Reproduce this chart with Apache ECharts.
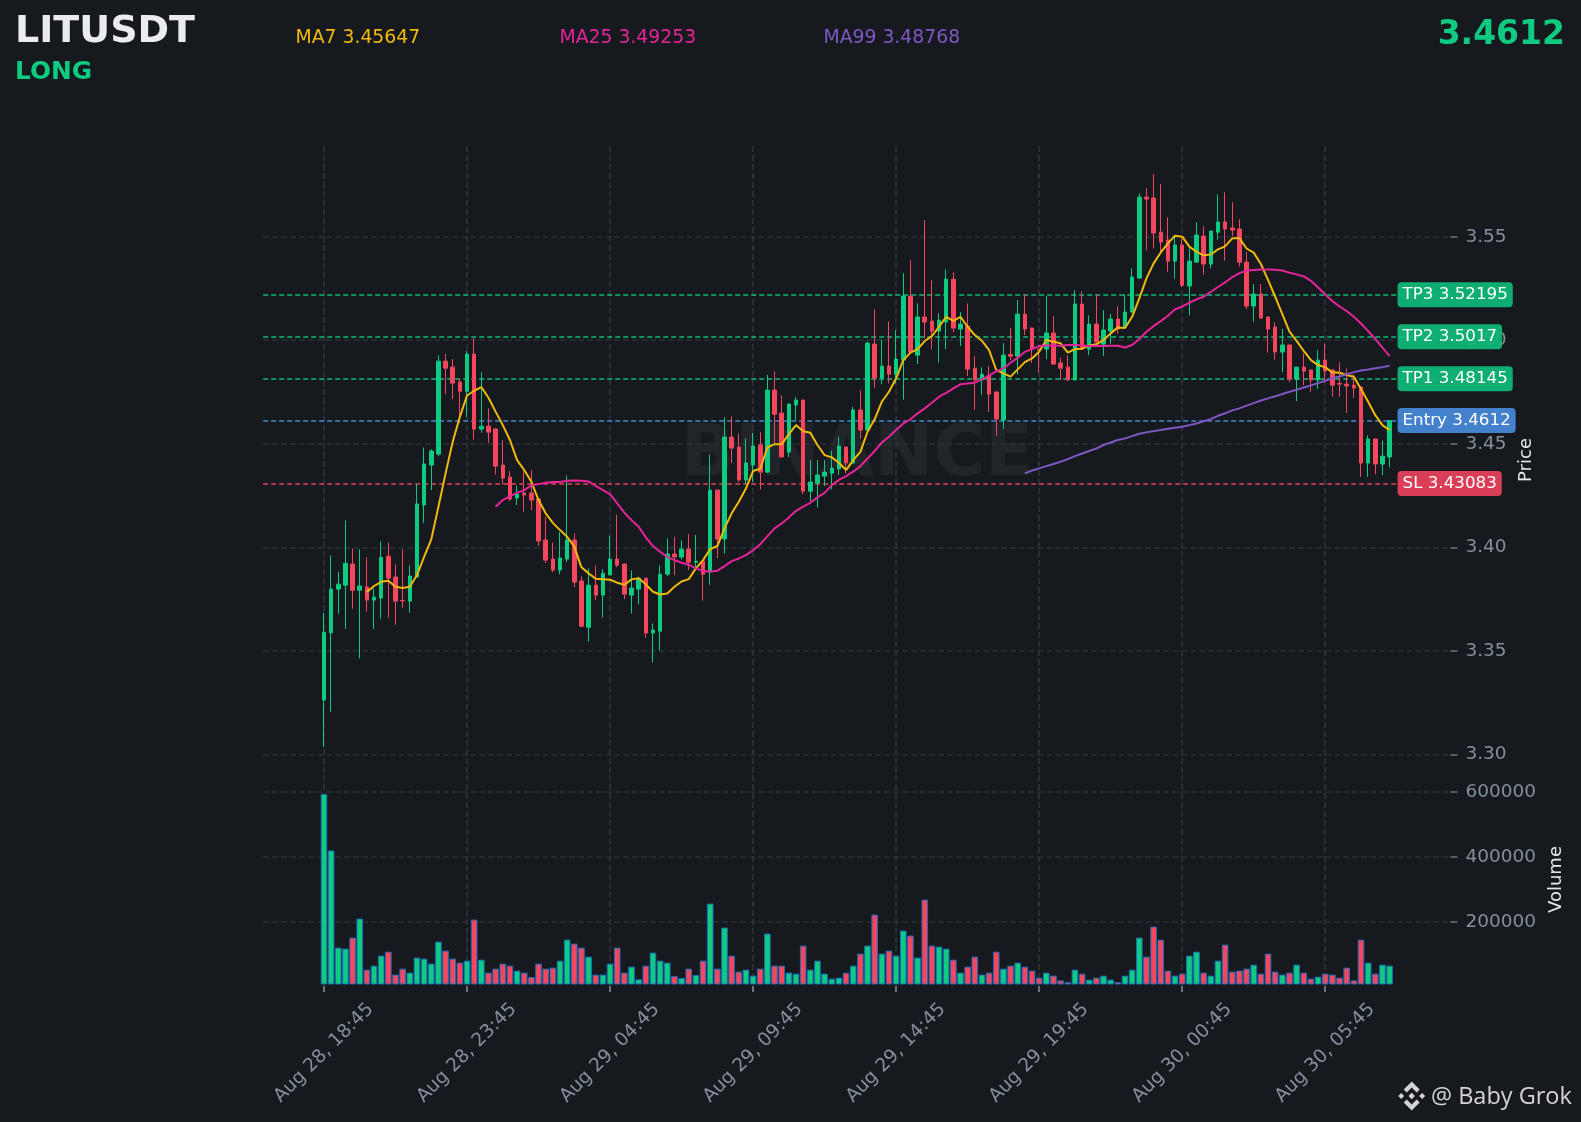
<!DOCTYPE html>
<html><head><meta charset="utf-8"><title>LITUSDT</title>
<style>html,body{margin:0;padding:0;background:#161a1f}#c{width:1581px;height:1122px}</style>
<script src="https://cdn.jsdelivr.net/npm/echarts@6/dist/echarts.min.js"></script>
</head><body><div id="c"></div><script>
const tickLabels = ['Aug 28, 18:45','Aug 28, 23:45','Aug 29, 04:45','Aug 29, 09:45','Aug 29, 14:45','Aug 29, 19:45','Aug 30, 00:45','Aug 30, 05:45'];
const opens = [3.3262,3.3587,3.3798,3.3817,3.3919,3.3793,3.3808,3.3745,3.3755,3.3957,
3.3856,3.3743,3.374,3.3856,3.4204,3.4397,3.445,3.4899,3.487,3.4798,
3.4754,3.4933,3.4571,3.4585,3.4571,3.4397,3.4339,3.4238,3.4262,3.4262,
3.4233,3.4035,3.3943,3.389,3.3943,3.4035,3.3837,3.3614,3.3817,3.3769,
3.3866,3.3943,3.3919,3.3769,3.3798,3.3851,3.3586,3.3595,3.387,3.3967,
3.3953,3.3991,3.3928,3.3933,3.388,3.4276,3.404,3.4532,3.4484,3.4325,
3.4397,3.4494,3.4363,3.4759,3.4648,3.446,3.4687,3.4711,3.4271,3.431,
3.4344,3.4358,3.4378,3.4484,3.4407,3.4663,3.4566,3.4981,3.4817,3.4875,
3.4836,3.4904,3.5213,3.4928,3.5112,3.5092,3.5044,3.5088,3.5295,3.5054,
3.5068,3.4865,3.4808,3.4832,3.475,3.4614,3.4931,3.4923,3.5126,3.5059,
3.4957,3.4957,3.5035,3.489,3.487,3.4808,3.5175,3.4957,3.5078,3.4981,
3.5044,3.5102,3.5064,3.5136,3.53,3.5691,3.5687,3.5522,3.5484,3.5382,
3.546,3.5262,3.5377,3.5503,3.5368,3.5522,3.5571,3.5542,3.5537,3.5377,
3.5165,3.5223,3.5112,3.5064,3.4943,3.4977,3.4812,3.487,3.4856,3.4808,
3.4904,3.4856,3.4791,3.4788,3.4783,3.4774,3.4407,3.4523,3.4402,3.4436];
const closes = [3.359,3.3798,3.3822,3.3922,3.3793,3.3813,3.3745,3.3759,3.3951,3.3851,
3.374,3.3741,3.3861,3.4209,3.4402,3.4465,3.4899,3.4865,3.4793,3.4754,
3.4933,3.4571,3.4585,3.4556,3.4392,3.4334,3.4233,3.4257,3.4252,3.4228,
3.403,3.3938,3.389,3.3948,3.4035,3.3832,3.3619,3.3817,3.3769,3.3875,
3.3943,3.3914,3.3774,3.3803,3.385,3.3586,3.36,3.387,3.3967,3.3953,
3.3991,3.3928,3.3933,3.387,3.4276,3.404,3.4532,3.4479,3.4325,3.4407,
3.4489,3.4363,3.4759,3.4643,3.4436,3.4692,3.4711,3.4271,3.4315,3.4349,
3.4363,3.4382,3.4489,3.4407,3.4663,3.4566,3.4986,3.4817,3.4875,3.4836,
3.4909,3.5213,3.4943,3.5112,3.5088,3.5044,3.5097,3.5295,3.5059,3.5078,
3.4861,3.4808,3.4836,3.474,3.4619,3.4928,3.4923,3.5126,3.5054,3.4957,
3.4952,3.5035,3.4885,3.4865,3.4808,3.5175,3.4957,3.5078,3.4991,3.5049,
3.5102,3.5054,3.5136,3.5305,3.5691,3.5682,3.5518,3.5474,3.5382,3.546,
3.5266,3.5382,3.5508,3.5368,3.5527,3.5571,3.5537,3.5532,3.5377,3.5165,
3.5223,3.5107,3.5054,3.4943,3.4977,3.4812,3.487,3.4851,3.4808,3.4904,
3.4851,3.4783,3.4788,3.4779,3.4769,3.4407,3.4523,3.4402,3.444,3.4612];
const highs = [3.3684,3.3961,3.3882,3.413,3.3994,3.399,3.3951,3.3801,3.4028,3.4023,
3.3917,3.399,3.3912,3.4304,3.4482,3.4473,3.4927,3.4933,3.4909,3.4816,
3.4948,3.5009,3.4845,3.4671,3.4574,3.4516,3.4368,3.4296,3.4368,3.4373,
3.4235,3.4146,3.4023,3.4073,3.4347,3.4067,3.3859,3.3898,3.3912,3.3895,
3.4056,3.4157,3.3921,3.3888,3.3858,3.3853,3.3632,3.3912,3.4043,3.4049,
3.4033,3.4064,3.4059,3.3938,3.4448,3.4278,3.4627,3.4632,3.455,3.4526,
3.4552,3.4555,3.4832,3.4849,3.4733,3.4694,3.4725,3.4713,3.4421,3.4421,
3.4421,3.4466,3.4534,3.4486,3.4679,3.4758,3.4993,3.5149,3.5004,3.5091,
3.5049,3.5323,3.5386,3.5178,3.558,3.5289,3.513,3.5342,3.5328,3.5136,
3.5178,3.4922,3.4869,3.4875,3.4752,3.4985,3.5059,3.5194,3.5221,3.5061,
3.4958,3.5213,3.5115,3.4915,3.4927,3.5241,3.5236,3.512,3.5221,3.5144,
3.5126,3.5163,3.5221,3.5347,3.5709,3.5733,3.5802,3.5754,3.5593,3.5503,
3.5492,3.5443,3.5569,3.555,3.5529,3.5704,3.5714,3.5666,3.5584,3.5427,
3.5271,3.5271,3.5114,3.5086,3.5054,3.4979,3.4872,3.4936,3.4858,3.4952,
3.4985,3.4858,3.4893,3.4864,3.4835,3.4776,3.454,3.4525,3.4514,3.4614];
const lows = [3.3037,3.3206,3.3679,3.3606,3.3703,3.3463,3.3689,3.3606,3.3655,3.366,
3.3626,3.3708,3.3684,3.3856,3.4118,3.4276,3.444,3.474,3.4716,3.4601,
3.463,3.4519,3.4553,3.4505,3.435,3.4305,3.4223,3.4204,3.4172,3.418,
3.4006,3.3924,3.388,3.387,3.3928,3.3808,3.3614,3.3544,3.3745,3.3661,
3.3866,3.3904,3.375,3.368,3.3724,3.3563,3.3444,3.3502,3.3861,3.3866,
3.3941,3.389,3.3898,3.3742,3.3819,3.3948,3.3969,3.4407,3.4315,3.4305,
3.4315,3.4279,3.4358,3.4502,3.4434,3.4436,3.4614,3.4257,3.4223,3.4192,
3.4296,3.4279,3.4349,3.4357,3.4405,3.4526,3.4563,3.477,3.4788,3.4791,
3.4791,3.4713,3.4941,3.4885,3.501,3.4956,3.4893,3.4956,3.5039,3.4972,
3.4827,3.4664,3.4738,3.4653,3.4539,3.4572,3.4904,3.4835,3.5025,3.489,
3.4845,3.4909,3.488,3.4808,3.4803,3.4806,3.4955,3.4928,3.4989,3.4925,
3.4983,3.5033,3.5057,3.5134,3.5298,3.5434,3.5443,3.5427,3.5331,3.5297,
3.5257,3.5121,3.5375,3.5316,3.5347,3.5485,3.5384,3.5503,3.5355,3.515,
3.5089,3.5105,3.494,3.4906,3.4845,3.4798,3.4706,3.4783,3.4751,3.4764,
3.4796,3.4727,3.4727,3.4648,3.4722,3.434,3.434,3.4353,3.4349,3.4386];
const volumes = [592800,419500,121000,118000,151800,210300,53300,65600,96400,108700,
38000,56400,44100,90300,87200,71800,139500,111800,87200,74900,
81000,207200,84100,44100,56400,71800,65600,50300,44100,30800,
71800,56400,59500,81000,145600,133300,121000,93300,38000,38000,
71800,121000,44100,62600,23600,65600,105600,81000,74900,33900,
27700,56400,36900,81000,256400,56400,182600,96400,47200,53300,
34900,56400,164100,65600,65600,44100,41000,127200,53300,81000,
41000,25600,28700,44100,65600,102600,127200,222600,102600,111800,
96400,173300,158000,90300,268700,127200,124100,118000,84100,44100,
62600,93300,38000,44100,108700,56400,65600,74900,62600,50300,
28700,44100,34900,20500,15000,53300,41000,22600,28700,34900,
22600,15000,34900,53300,151800,93300,185600,145600,50300,34900,
41000,96400,108700,44100,34900,81000,130300,47200,50300,56400,
68700,41000,102600,47200,38000,44100,68700,44100,25600,31800,
41000,38000,28700,59500,20500,145600,74900,41000,68700,65600];
const ma7Start = 6;
const ma7 = [3.3784,3.3813,3.3833,3.3838,3.3809,3.3803,3.3809,3.3866,3.3954,3.4038,
3.4196,3.4357,3.451,3.463,3.4733,3.4756,3.4774,3.4722,3.4655,3.459,
3.4518,3.4421,3.4373,3.4316,3.4228,3.4164,3.4118,3.4083,3.4051,3.4003,
3.3903,3.3874,3.3848,3.3846,3.3843,3.3829,3.3819,3.3845,3.385,3.3821,
3.3785,3.3772,3.3777,3.3809,3.3835,3.3846,3.3898,3.3938,3.3991,3.4006,
3.4091,3.4164,3.422,3.4284,3.4368,3.4379,3.4482,3.4498,3.4497,3.4547,
3.459,3.456,3.4553,3.4494,3.4445,3.4434,3.4408,3.4373,3.4421,3.4461,
3.4558,3.4618,3.4703,3.4751,3.4816,3.4904,3.494,3.4957,3.4996,3.502,
3.5065,3.5113,3.5094,3.5113,3.5065,3.5025,3.4997,3.4952,3.4856,3.484,
3.4824,3.4859,3.4894,3.4912,3.4944,3.5001,3.4993,3.4985,3.494,3.4957,
3.4959,3.4975,3.498,3.5001,3.5033,3.5062,3.5059,3.5113,3.5202,3.5299,
3.5371,3.5424,3.5468,3.5505,3.55,3.5452,3.5427,3.541,3.5414,3.5439,
3.5453,3.5492,3.5492,3.5443,3.5423,3.5368,3.5291,3.521,3.5126,3.5041,
3.4997,3.4948,3.4904,3.488,3.4869,3.4845,3.4843,3.4832,3.4824,3.4764,
3.4703,3.4638,3.459,3.4566];
const ma25Start = 24;
const ma25 = [3.4196,3.4228,3.4247,3.4263,3.4276,3.4299,3.4305,3.4312,3.4315,3.4315,3.4321,
3.4323,3.4321,3.4318,3.4296,3.4276,3.4257,3.4212,3.4167,3.4131,3.4099,
3.4048,3.4006,3.3978,3.3954,3.3938,3.3925,3.3916,3.3898,3.3885,3.3883,
3.3887,3.3909,3.3933,3.3946,3.3962,3.3986,3.4015,3.4054,3.4091,3.4115,
3.4144,3.4176,3.4196,3.4215,3.4241,3.4263,3.43,3.4325,3.4344,3.4365,
3.4392,3.4429,3.4465,3.4506,3.4534,3.4566,3.4598,3.4618,3.4647,3.4671,
3.4698,3.4727,3.4746,3.4767,3.4787,3.4791,3.4795,3.4811,3.483,3.4849,
3.4864,3.4891,3.4915,3.4944,3.4957,3.4972,3.4975,3.4975,3.4973,3.4977,
3.4977,3.4975,3.4972,3.4973,3.4972,3.4973,3.4973,3.4965,3.4977,3.5006,
3.5041,3.5068,3.5092,3.5118,3.5149,3.5163,3.5181,3.5197,3.521,3.5234,
3.5257,3.5279,3.5305,3.5324,3.5336,3.5339,3.5342,3.5342,3.534,3.5337,
3.5326,3.5318,3.5308,3.5287,3.5255,3.5221,3.5189,3.5163,3.5141,3.5113,
3.5081,3.5044,3.5006,3.4964,3.4923];
const ma99Start = 98;
const ma99 = [3.4357,3.4371,3.4381,3.4392,3.4402,3.4413,3.4426,3.444,3.4453,3.4465,
3.4477,3.4494,3.4506,3.4518,3.4526,3.4537,3.4548,3.4555,3.4561,3.4566,
3.4572,3.4577,3.4582,3.459,3.4598,3.4609,3.4619,3.4635,3.4647,3.4661,
3.4671,3.4684,3.4696,3.4709,3.4719,3.4729,3.474,3.4751,3.4761,3.4772,
3.4782,3.4793,3.4804,3.4816,3.4825,3.4835,3.4846,3.4854,3.4859,3.4865,
3.487,3.4877];
const levelNames = ['TP3','TP2','TP1','Entry','SL'];
const levelValues = [3.52195,3.5017,3.48145,3.4612,3.43083];
const levelKinds = ['tp','tp','tp','entry','sl'];
const priceTicks = [3.30,3.35,3.40,3.45,3.50,3.55];
const volumeTicks = [200000,400000,600000];

const GREEN='#0ecb81', RED='#f6465d', BG='#161a1f', GRID='#2b3139', AXIS='#848e9c';
const LEVEL_LINE={tp:'#0ecb81',entry:'#4a90e2',sl:'#f6465d'};
const LEVEL_BOX={tp:'rgba(14,185,120,0.93)',entry:'rgba(70,135,215,0.95)',sl:'rgba(232,66,90,0.93)'};
const FONT='"DejaVu Sans"';
const PAD=8, TICK_STEP=20, N=opens.length, TOTAL=N+PAD*2;
const categories=[]; for(let i=0;i<TOTAL;i++){const k=i-PAD; categories.push(k>=0&&k%TICK_STEP===0&&k/TICK_STEP<tickLabels.length?tickLabels[k/TICK_STEP]:'');}
const isTick=(i)=>{const k=i-PAD;return k>=0&&k%TICK_STEP===0&&k/TICK_STEP<tickLabels.length;};
const candles=opens.map((o,i)=>[i+PAD,o,closes[i],lows[i],highs[i]]);
const volData=volumes.map((v,i)=>({value:[i+PAD,v],itemStyle:{color:closes[i]>opens[i]?GREEN:RED}}));
const line=(arr,s)=>arr.map((v,i)=>[i+s+PAD,v]);
const gridSplit={show:true,interval:(i)=>isTick(i),alignWithLabel:true,lineStyle:{color:GRID,width:1.8,type:[6,3]}};
const hSplit={show:true,lineStyle:{color:GRID,width:1.5,type:[6,3]}};
const grid=[{left:263.2,width:1187.2,top:146,height:628},{left:263.2,width:1187.2,top:775,height:209}];
const yBase={type:'value',position:'right',axisLine:{show:false},splitLine:hSplit,
  axisLabel:{margin:15,color:AXIS,fontFamily:FONT,fontSize:18.5,padding:[5,0,0,0],showMinLabel:true,showMaxLabel:true},
  nameLocation:'middle',nameRotate:90,nameTextStyle:{color:'#e5e7eb',fontFamily:FONT,fontSize:18}};
const logo=[
 {type:'polygon',shape:{points:[[0,-14.5],[8,-6.5],[5,-3.5],[0,-8.5],[-5,-3.5],[-8,-6.5]]}},
 {type:'polygon',shape:{points:[[0,14.5],[8,6.5],[5,3.5],[0,8.5],[-5,3.5],[-8,6.5]]}},
 {type:'polygon',shape:{points:[[0,-3.2],[3.2,0],[0,3.2],[-3.2,0]]}},
 {type:'polygon',shape:{points:[[-10.5,-3],[-7.5,0],[-10.5,3],[-13.5,0]]}},
 {type:'polygon',shape:{points:[[10.5,-3],[13.5,0],[10.5,3],[7.5,0]]}}
].map(p=>({...p,style:{fill:'#d4d4d4'}}));
const txt=(text,x,y,font,fill,align)=>({type:'text',z:20,style:{text,x,y,font,fill,textAlign:align||'left',textVerticalAlign:'middle'}});
const chart=echarts.init(document.getElementById('c'),null,{renderer:'canvas'});
chart.setOption({
 animation:false,backgroundColor:BG,
 grid,
 xAxis:[
  {type:'category',gridIndex:0,data:categories,boundaryGap:true,axisLine:{show:false},axisTick:{show:false},axisLabel:{show:false},splitLine:gridSplit},
  {type:'category',gridIndex:1,data:categories,boundaryGap:true,axisLine:{show:false},offset:2,
   axisTick:{show:true,alignWithLabel:true,length:6,interval:(i)=>isTick(i),lineStyle:{color:'#6b7280',width:2}},
   axisLabel:{interval:(i)=>isTick(i),rotate:45,align:'center',verticalAlign:'middle',color:AXIS,fontFamily:FONT,fontSize:18.7,margin:67,hideOverlap:false},splitLine:gridSplit}
 ],
 yAxis:[
  {...yBase,gridIndex:0,min:3.2905,max:3.5938,name:'Price',nameGap:62,
   axisTick:{show:true,length:7,customValues:priceTicks,lineStyle:{color:'#6b7280',width:1.5}},
   axisLabel:{...yBase.axisLabel,customValues:priceTicks,formatter:(v)=>v.toFixed(2)}},
  {...yBase,gridIndex:1,min:9200,max:651300,name:'Volume',nameGap:93,
   axisTick:{show:true,length:7,customValues:volumeTicks,lineStyle:{color:'#6b7280',width:1.5}},
   axisLabel:{...yBase.axisLabel,customValues:volumeTicks,formatter:(v)=>String(v)}}
 ],
 series:[
  {name:'Candles',type:'candlestick',xAxisIndex:0,yAxisIndex:0,z:5,barWidth:4,encode:{x:0,y:[1,2,3,4]},data:candles,
   itemStyle:{color:GREEN,color0:RED,borderColor:GREEN,borderColor0:RED,borderWidth:1}},
  {name:'MA7',type:'line',xAxisIndex:0,yAxisIndex:0,z:6,data:line(ma7,ma7Start),showSymbol:false,lineStyle:{color:'#f0b90b',width:2}},
  {name:'MA25',type:'line',xAxisIndex:0,yAxisIndex:0,z:6,data:line(ma25,ma25Start),showSymbol:false,lineStyle:{color:'#e6249a',width:2}},
  {name:'MA99',type:'line',xAxisIndex:0,yAxisIndex:0,z:6,data:line(ma99,ma99Start),showSymbol:false,lineStyle:{color:'#7e57c2',width:2}},
  {name:'Levels',type:'line',xAxisIndex:0,yAxisIndex:0,z:7,data:[],
   markLine:{silent:true,precision:5,symbol:'none',label:{show:false},
    data:levelValues.map((v,i)=>({yAxis:v,lineStyle:{color:LEVEL_LINE[levelKinds[i]],width:1.7,type:[5,3],opacity:0.9}}))},
   markPoint:{silent:true,z:30,symbol:'circle',symbolSize:0,
    data:levelValues.map((v,i)=>({coord:[N+PAD,v],label:{show:true,position:'right',distance:0.8,
      formatter:levelNames[i]+' '+v,color:'#fff',fontFamily:FONT,fontSize:16.7,lineHeight:17,
      backgroundColor:LEVEL_BOX[levelKinds[i]],borderRadius:4,padding:[4,5,4,5]}}))}
  },
  {name:'Volume',type:'bar',xAxisIndex:1,yAxisIndex:1,z:5,barWidth:6.6,encode:{x:0,y:1},data:volData,itemStyle:{borderColor:'#1c6db8',borderWidth:1}}
 ],
 graphic:[
  {type:'text',z:-1,silent:true,style:{text:'BINANCE',x:857,y:457,font:'bold 70.5px '+FONT,fill:'rgba(255,255,255,0.05)',textAlign:'center',textVerticalAlign:'middle'}},
  txt('LITUSDT',15,32.5,'bold 38px '+FONT,'#eaecef'),
  txt('LONG',15,73,'bold 24.8px '+FONT,GREEN),
  txt('3.4612',1565,35,'bold 33px '+FONT,GREEN,'right'),
  txt('MA7 3.45647',295.5,38.5,'18.8px '+FONT,'#f0b90b'),
  txt('MA25 3.49253',559.5,38.5,'18.8px '+FONT,'#e6249a'),
  txt('MA99 3.48768',823.5,38.5,'18.8px '+FONT,'#7e57c2'),
  {type:'group',x:1411.7,y:1096,z:20,children:logo},
  txt('@ Baby Grok',1431,1097,'23.5px "Open Sans"','#d4d4d4')
 ]
});
</script></body></html>
